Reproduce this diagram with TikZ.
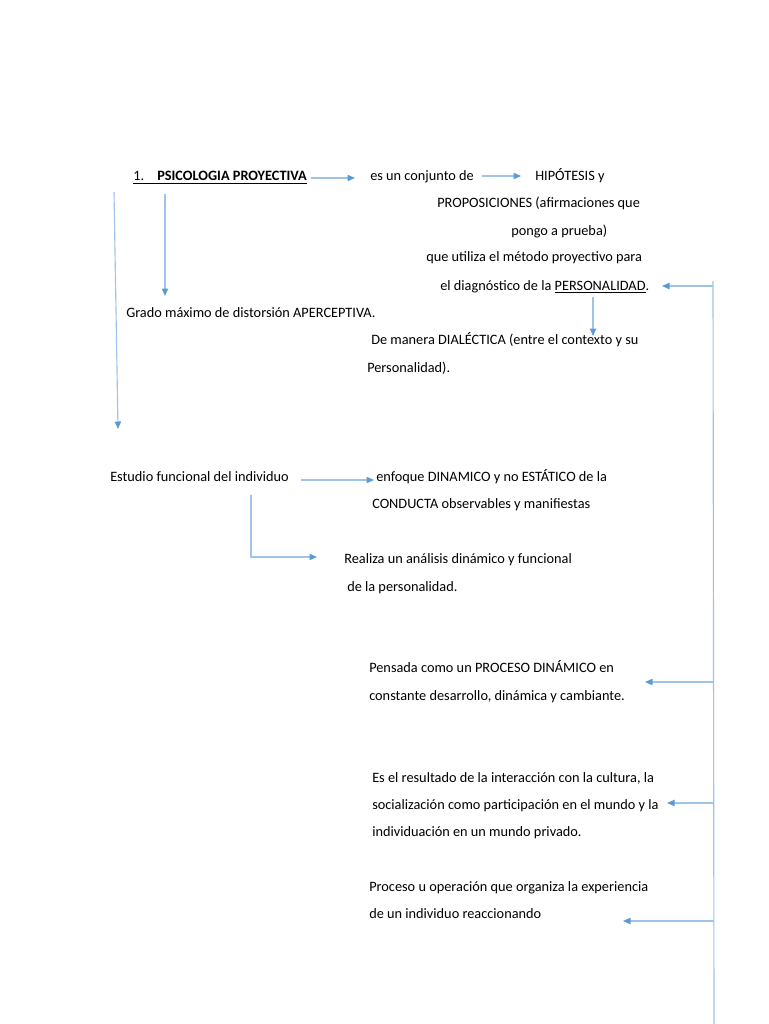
\documentclass[tikz,border=0pt]{standalone}
\usepackage{fontspec}
\setmainfont{Carlito}
\usetikzlibrary{arrows.meta}
\definecolor{lineblue}{RGB}{160,196,232}
\definecolor{headblue}{RGB}{91,155,213}
\begin{document}
\begin{tikzpicture}[x=0.8pt,y=-0.8pt,
  txt/.style={anchor=base west, inner sep=0pt, font=\fontsize{11.45}{13.5}\selectfont},
  conn/.style={draw=lineblue, line width=0.9pt, -{Triangle[length=6pt,width=5pt,color=headblue]}},
  plainline/.style={draw=lineblue, line width=0.9pt}]
\path[use as bounding box, fill=white] (0,0) rectangle (768,1024);

% texts
\node[txt] (t1) at (133,181) {\underline{\makebox[19.2pt][l]{1.}\textbf{PSICOLOGIA PROYECTIVA}}};
\node[txt] (t2) at (370,181) {es un conjunto de};
\node[txt] (t3) at (535,181) {HIPÓTESIS y};
\node[txt] (t4) at (437,208) {PROPOSICIONES (afirmaciones que};
\node[txt] (t5) at (511,235) {pongo a prueba)};
\node[txt] (t6) at (426,262) {que utiliza el método proyectivo para};
\node[txt] (t7) at (440,290) {el diagnóstico de la \underline{PERSONALIDAD}.};
\node[txt] (t8) at (126,317) {Grado máximo de distorsión APERCEPTIVA.};
\node[txt] (t9) at (371,344) {De manera DIALÉCTICA (entre el contexto y su};
\node[txt] (t10) at (367,372) {Personalidad).};
\node[txt] (t11) at (110,481) {Estudio funcional del individuo};
\node[txt] (t12) at (376,481) {enfoque DINAMICO y no ESTÁTICO de la};
\node[txt] (t13) at (372,508) {CONDUCTA observables y manifiestas};
\node[txt] (t14) at (344,563) {Realiza un análisis dinámico y funcional};
\node[txt] (t15) at (347,591) {de la personalidad.};
\node[txt] (t16) at (369,672) {Pensada como un PROCESO DINÁMICO en};
\node[txt] (t17) at (369,700) {constante desarrollo, dinámica y cambiante.};
\node[txt] (t18) at (372,782) {Es el resultado de la interacción con la cultura, la};
\node[txt] (t19) at (372,809) {socialización como participación en el mundo y la};
\node[txt] (t20) at (372,836) {individuación en un mundo privado.};
\node[txt] (t21) at (369,891) {Proceso u operación que organiza la experiencia};
\node[txt] (t22) at (369,918) {de un individuo reaccionando};

% coordinates
\coordinate (a1s) at (311,178);  \coordinate (a1e) at (355,178);
\coordinate (a2s) at (482,176);  \coordinate (a2e) at (521,176);
\coordinate (a3s) at (593,297);  \coordinate (a3e) at (593,336);
\coordinate (a4s) at (165,194);  \coordinate (a4e) at (165,296);
\coordinate (a5s) at (114,192);  \coordinate (a5e) at (118,429);
\coordinate (a6s) at (301,480);  \coordinate (a6e) at (374,480);
\coordinate (a7s) at (251,495);  \coordinate (a7m) at (251,557); \coordinate (a7e) at (317,557);
\coordinate (vtop) at (713,281); \coordinate (vbot) at (714,1024);
\coordinate (b1) at (713,286);   \coordinate (b1e) at (662,286);
\coordinate (b2) at (713,682);   \coordinate (b2e) at (645,682);
\coordinate (b3) at (713,803);   \coordinate (b3e) at (667,803);
\coordinate (b4) at (714,921);   \coordinate (b4e) at (623,921);

% connectors
\draw[conn] (a1s) -- (a1e);
\draw[conn] (a2s) -- (a2e);
\draw[conn] (a3s) -- (a3e);
\draw[conn] (a4s) -- (a4e);
\draw[conn] (a5s) -- (a5e);
\draw[conn] (a6s) -- (a6e);
\draw[conn] (a7s) -- (a7m) -- (a7e);
\draw[plainline] (vtop) -- (vbot);
\draw[conn] (b1) -- (b1e);
\draw[conn] (b2) -- (b2e);
\draw[conn] (b3) -- (b3e);
\draw[conn] (b4) -- (b4e);
\end{tikzpicture}
\end{document}
